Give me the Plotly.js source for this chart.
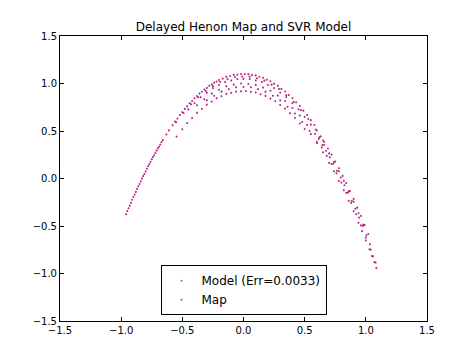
<!DOCTYPE html>
<html>
<head>
<meta charset="utf-8">
<script src="https://cdn.plot.ly/plotly-3.0.1.min.js"></script>
<style>html,body{margin:0;padding:0;background:#fff;}#chart{width:474px;height:357px;}</style>
</head>
<body>
<div id="chart"></div>
<script>
// Outer (top) band, left arm through the peak
const topX = [-0.96,-0.94,-0.92,-0.90,-0.88,-0.86,-0.84,-0.82,-0.80,-0.78,-0.76,-0.74,-0.72,-0.70,-0.68,-0.66,-0.63,-0.61,-0.58,-0.56,-0.54,-0.52,-0.50,-0.48,-0.46,-0.44,-0.42,-0.40,-0.38,-0.36,-0.34,-0.32,-0.30,-0.28,-0.26,-0.24,-0.22,-0.20,-0.17,-0.14,-0.11,-0.08,-0.05,-0.02,0.01,0.04,0.07,0.10,0.13,0.16,0.19,0.22,0.25,0.28,0.31,0.34,0.37,0.40,0.43,0.46,0.49,0.52,0.55,0.58];
const topModel = [-0.375,-0.314,-0.254,-0.196,-0.139,-0.083,-0.029,0.024,0.076,0.127,0.176,0.224,0.271,0.316,0.360,0.403,0.465,0.505,0.562,0.598,0.633,0.667,0.700,0.731,0.761,0.790,0.818,0.844,0.869,0.893,0.915,0.936,0.956,0.975,0.992,1.008,1.023,1.036,1.054,1.069,1.081,1.090,1.096,1.099,1.100,1.097,1.092,1.084,1.073,1.059,1.042,1.023,1.000,0.975,0.946,0.915,0.881,0.844,0.804,0.761,0.716,0.667,0.616,0.562];
const topMap = [-0.378,-0.311,-0.257,-0.193,-0.142,-0.080,-0.032,0.027,0.073,0.130,0.173,0.227,0.268,0.319,0.357,0.406,0.462,0.508,0.559,0.601,0.630,0.670,0.697,0.734,0.758,0.793,0.815,0.847,0.866,0.896,0.912,0.939,0.953,0.978,0.989,1.011,1.020,1.039,1.051,1.072,1.078,1.093,1.093,1.102,1.097,1.100,1.089,1.087,1.070,1.062,1.039,1.026,0.997,0.978,0.943,0.918,0.878,0.847,0.801,0.764,0.713,0.670,0.613,0.565];

// Extra points on the left arm
const armX = [-0.95,-0.93,-0.91,-0.89,-0.87,-0.85,-0.83,-0.81,-0.79,-0.77,-0.75,-0.73,-0.71,-0.69,-0.67];
const armModel = [-0.344,-0.284,-0.225,-0.167,-0.111,-0.056,-0.002,0.050,0.101,0.151,0.200,0.247,0.293,0.338,0.382];
const armMap = [-0.341,-0.287,-0.222,-0.170,-0.108,-0.059,0.001,0.047,0.104,0.148,0.203,0.244,0.296,0.335,0.385];

// Second band just under the top
const t2X = [-0.55,-0.49,-0.43,-0.37,-0.31,-0.25,-0.19,-0.13,-0.07,-0.01,0.05,0.11,0.17,0.23,0.29,0.35,0.41,0.47,0.53,0.59,0.65];
const t2Model = [0.591,0.691,0.779,0.856,0.921,0.975,1.017,1.048,1.067,1.075,1.071,1.056,1.029,0.990,0.940,0.879,0.806,0.722,0.626,0.518,0.399];
const t2Map = [0.594,0.688,0.782,0.853,0.924,0.972,1.020,1.045,1.070,1.072,1.074,1.053,1.032,0.987,0.943,0.876,0.809,0.719,0.629,0.515,0.402];

// Right arm strands
const r1X = [0.60,0.63,0.66,0.69,0.72,0.75,0.78,0.81,0.84,0.87,0.90,0.93,0.96,0.99,1.02];
const r1Model = [0.504,0.445,0.383,0.318,0.251,0.180,0.107,0.030,-0.049,-0.131,-0.216,-0.304,-0.395,-0.488,-0.585];
const r1Map = [0.507,0.442,0.386,0.315,0.254,0.177,0.110,0.027,-0.046,-0.134,-0.213,-0.307,-0.392,-0.491,-0.582];

const r2X = [0.585,0.615,0.645,0.675,0.705,0.735,0.765,0.795,0.825,0.855,0.885,0.915,0.945,0.975,1.005,1.035];
const r2Model = [0.472,0.415,0.354,0.291,0.225,0.156,0.084,0.009,-0.069,-0.150,-0.233,-0.320,-0.409,-0.501,-0.596,-0.694];
const r2Map = [0.469,0.418,0.351,0.294,0.222,0.159,0.081,0.012,-0.072,-0.147,-0.236,-0.317,-0.412,-0.498,-0.599,-0.691];

const r3X = [0.55,0.60,0.65,0.70,0.74,0.78,0.82,0.86,0.90,0.94,0.97,1.00,1.03,1.05,1.07,1.086];
const r3Model = [0.466,0.374,0.274,0.166,0.074,-0.023,-0.126,-0.233,-0.346,-0.464,-0.555,-0.650,-0.747,-0.814,-0.882,-0.942];
const r3Map = [0.469,0.371,0.277,0.163,0.077,-0.026,-0.123,-0.236,-0.343,-0.467,-0.552,-0.653,-0.744,-0.817,-0.879,-0.945];

const r4X = [0.62,0.66,0.70,0.74,0.78,0.82,0.86,0.90,0.94,0.98];
const r4Model = [0.435,0.353,0.266,0.174,0.077,-0.026,-0.133,-0.246,-0.364,-0.487];
const r4Map = [0.432,0.356,0.263,0.177,0.074,-0.023,-0.136,-0.243,-0.367,-0.484];

const r5X = [0.64,0.68,0.72,0.76,0.80,0.84,0.88,0.92,0.96,1.00,1.04,1.06,1.08];
const r5Model = [0.325,0.240,0.151,0.056,-0.044,-0.149,-0.259,-0.374,-0.495,-0.620,-0.751,-0.818,-0.886];
const r5Map = [0.328,0.237,0.154,0.053,-0.041,-0.152,-0.256,-0.377,-0.492,-0.623,-0.748,-0.821,-0.883];

// Inner bands under the peak
const m1X = [-0.45,-0.40,-0.35,-0.30,-0.25,-0.20,-0.15,-0.10,-0.05,0.00,0.05,0.10,0.15,0.20,0.25,0.30,0.35,0.40,0.45,0.50,0.55];
const m1Model = [0.726,0.794,0.854,0.906,0.950,0.986,1.014,1.034,1.046,1.050,1.046,1.034,1.014,0.986,0.950,0.906,0.854,0.794,0.726,0.650,0.566];
const m1Map = [0.729,0.791,0.857,0.903,0.953,0.983,1.017,1.031,1.049,1.047,1.049,1.031,1.017,0.983,0.953,0.903,0.857,0.791,0.729,0.647,0.569];

const m2X = [-0.38,-0.32,-0.26,-0.20,-0.14,-0.08,-0.02,0.04,0.10,0.16,0.22,0.28,0.34,0.40,0.46,0.52];
const m2Model = [0.769,0.836,0.892,0.936,0.969,0.990,0.999,0.997,0.984,0.959,0.923,0.875,0.815,0.744,0.661,0.567];
const m2Map = [0.772,0.833,0.895,0.933,0.972,0.987,1.002,0.994,0.987,0.956,0.926,0.872,0.818,0.741,0.664,0.564];

const m3X = [-0.30,-0.24,-0.18,-0.12,-0.06,0.00,0.06,0.12,0.18,0.24,0.30,0.36,0.42,0.48,0.54,0.60];
const m3Model = [0.821,0.873,0.913,0.942,0.959,0.965,0.959,0.942,0.913,0.873,0.821,0.758,0.683,0.596,0.498,0.389];
const m3Map = [0.824,0.870,0.916,0.939,0.962,0.962,0.962,0.939,0.916,0.870,0.824,0.755,0.686,0.593,0.501,0.386];

const lowX = [-0.547,-0.50,-0.46,-0.42,-0.38,-0.34,-0.30,-0.26,-0.22,-0.18,-0.14,-0.10,-0.06,-0.02,0.02,0.06,0.10,0.14,0.18,0.22,0.26,0.30,0.34,0.38,0.42,0.46,0.50];
const lowModel = [0.441,0.520,0.581,0.638,0.689,0.735,0.776,0.812,0.843,0.868,0.889,0.904,0.914,0.919,0.919,0.914,0.904,0.889,0.868,0.843,0.812,0.776,0.735,0.689,0.638,0.581,0.520];
const lowMap = [0.444,0.517,0.584,0.635,0.692,0.732,0.779,0.809,0.846,0.865,0.892,0.901,0.917,0.916,0.922,0.911,0.907,0.886,0.871,0.840,0.815,0.773,0.738,0.686,0.641,0.578,0.523];

const tickVals = [-1.5,-1.0,-0.5,0.0,0.5,1.0,1.5];

const xs = [].concat(topX, armX, t2X, r1X, r2X, r3X, r4X, r5X, m1X, m2X, m3X, lowX);
const modelY = [].concat(topModel, armModel, t2Model, r1Model, r2Model, r3Model, r4Model, r5Model, m1Model, m2Model, m3Model, lowModel);
const mapY = [].concat(topMap, armMap, t2Map, r1Map, r2Map, r3Map, r4Map, r5Map, m1Map, m2Map, m3Map, lowMap);

const font = "DejaVu Sans, sans-serif";
const traces = [
  {x: xs, y: mapY, type: 'scatter', mode: 'markers', name: 'Map', legendrank: 2,
   marker: {color: '#3030ff', size: 1.8, opacity: 0.8, line: {width: 0}}},
  {x: xs, y: modelY, type: 'scatter', mode: 'markers', name: 'Model (Err=0.0033)', legendrank: 1,
   marker: {color: '#ff0020', size: 1.8, opacity: 0.7, line: {width: 0}}}
];
const axisCommon = {
  range: [-1.5, 1.5], tickvals: tickVals, tickformat: '.1f',
  ticks: 'inside', ticklen: 4, tickwidth: 1, tickcolor: '#000',
  showline: true, linecolor: '#000', linewidth: 1, mirror: 'allticks',
  showgrid: false, zeroline: false,
  tickfont: {family: font, size: 10, color: '#000'}
};
const layout = {
  width: 474, height: 357,
  margin: {l: 60, r: 47, t: 36, b: 36, pad: 0},
  paper_bgcolor: '#fff', plot_bgcolor: '#fff',
  title: {text: 'Delayed Henon Map and SVR Model', font: {family: font, size: 12, color: '#000'},
          x: 0.5, xref: 'paper', xanchor: 'center', y: 0.924, yanchor: 'middle'},
  xaxis: Object.assign({}, axisCommon),
  yaxis: Object.assign({}, axisCommon),
  showlegend: true,
  legend: {x: 0.5, xanchor: 'center', y: 0.02, yanchor: 'bottom',
           bgcolor: '#fff', bordercolor: '#000', borderwidth: 1,
           font: {family: font, size: 12, color: '#000'}, itemsizing: 'trace'},
  hovermode: false
};
Plotly.newPlot('chart', traces, layout, {displayModeBar: false, staticPlot: true});
</script>
</body>
</html>
